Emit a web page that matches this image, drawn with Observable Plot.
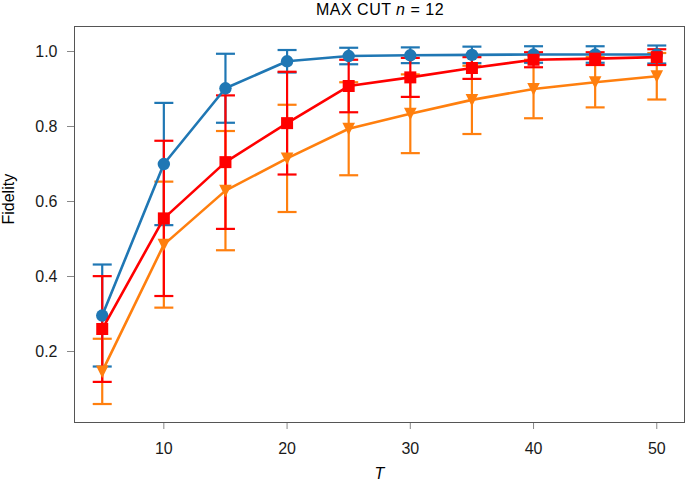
<!DOCTYPE html>
<html>
<head>
<meta charset="utf-8">
<script src="https://cdn.jsdelivr.net/npm/d3@7"></script>
<script src="https://cdn.jsdelivr.net/npm/@observablehq/plot@0.6"></script>
<style>
  html, body { margin: 0; padding: 0; background: #fff; }
  #chart svg { display: block; }
</style>
</head>
<body>
<div id="chart"></div>
<script>
// ---- Data ----
const T = [5, 10, 15, 20, 25, 30, 35, 40, 45, 50];

const blueMean   = [0.296, 0.700, 0.902, 0.974, 0.988, 0.990, 0.991, 0.992, 0.992, 0.992];
const blueErr    = [0.136, 0.163, 0.092, 0.030, 0.022, 0.021, 0.022, 0.022, 0.022, 0.024];

const redMean    = [0.260, 0.555, 0.705, 0.809, 0.908, 0.931, 0.956, 0.978, 0.981, 0.985];
const redErr     = [0.141, 0.207, 0.178, 0.137, 0.070, 0.052, 0.029, 0.020, 0.017, 0.021];

const orangeMean = [0.147, 0.485, 0.629, 0.715, 0.794, 0.834, 0.871, 0.900, 0.918, 0.934];
const orangeErr  = [0.087, 0.168, 0.159, 0.143, 0.124, 0.105, 0.091, 0.078, 0.067, 0.062];

const xTicks = [10, 20, 30, 40, 50];
const yTicks = [0.2, 0.4, 0.6, 0.8, 1.0];

const titleText = ["MAX CUT ", "n", " = 12"];
const xLabel = "T";
const yLabel = "Fidelity";

// ---- Build tables ----
const rows = (mean, err) => T.map((t, i) => ({T: t, m: mean[i], lo: mean[i] - err[i], hi: mean[i] + err[i]}));
const blue = rows(blueMean, blueErr);
const red = rows(redMean, redErr);
const orange = rows(orangeMean, orangeErr);

// ---- Custom symbols (pixel sized) ----
const capSymbol = {draw(ctx) { ctx.moveTo(-9.5, 0); ctx.lineTo(9.5, 0); }};
const squareSymbol = {draw(ctx) { ctx.rect(-6, -6, 12, 12); }};
const triDownSymbol = {draw(ctx) { ctx.moveTo(-6.3, -6); ctx.lineTo(6.3, -6); ctx.lineTo(0, 6.5); ctx.closePath(); }};

const C = {blue: "#1f77b4", red: "#ff0000", orange: "#ff7f0e"};

function errMarks(data, color) {
  return [
    Plot.ruleX(data, {x: "T", y1: "lo", y2: "hi", stroke: color, strokeWidth: 2.2}),
    Plot.dot(data, {x: "T", y: "hi", symbol: capSymbol, fill: "none", stroke: color, strokeWidth: 2.2, r: 9.5}),
    Plot.dot(data, {x: "T", y: "lo", symbol: capSymbol, fill: "none", stroke: color, strokeWidth: 2.2, r: 9.5})
  ];
}
function seriesMarks(data, color, symbol, r) {
  return [
    Plot.line(data, {x: "T", y: "m", stroke: color, strokeWidth: 2.6}),
    Plot.dot(data, {x: "T", y: "m", symbol, fill: color, stroke: "none", r})
  ];
}

const svg = Plot.plot({
  width: 685,
  height: 485,
  marginLeft: 74,
  marginRight: 1,
  marginTop: 26,
  marginBottom: 63,
  style: {fontFamily: "'Liberation Sans', Arial, Helvetica, sans-serif", fontSize: "16px", color: "#000", background: "#fff"},
  x: {domain: [2.75, 52.25], label: null},
  y: {domain: [0.0107, 1.0667], label: null},
  marks: [
    Plot.axisX({ticks: xTicks, tickSize: 7, tickPadding: 13, stroke: "#888", fill: "#1a1a1a", label: null, tickFormat: d3.format("d")}),
    Plot.axisY({ticks: yTicks, tickSize: 7, tickPadding: 10, stroke: "#888", fill: "#1a1a1a", label: null, tickFormat: d3.format(".1f")}),
    ...errMarks(blue, C.blue),
    ...errMarks(orange, C.orange),
    ...errMarks(red, C.red),
    ...seriesMarks(blue, C.blue, "circle", 6.2),
    ...seriesMarks(red, C.red, squareSymbol, 6),
    ...seriesMarks(orange, C.orange, triDownSymbol, 6),
    Plot.frame({stroke: "#555", strokeWidth: 1}),
    Plot.text([xLabel], {frameAnchor: "bottom", dy: 56, fontStyle: "italic", fontSize: 16, fill: "#000"}),
    Plot.text([yLabel], {frameAnchor: "left", dx: -66, rotate: -90, fontSize: 16, fill: "#000"})
  ]
});

// Title with italic n
const title = d3.select(svg).append("text")
  .attr("x", 380).attr("y", 15)
  .attr("text-anchor", "middle")
  .attr("font-size", 16)
  .attr("letter-spacing", "0.5px")
  .attr("fill", "#000");
title.selectAll("tspan").data(titleText).join("tspan")
  .attr("font-style", (d, i) => i === 1 ? "italic" : "normal")
  .text(d => d);

document.getElementById("chart").appendChild(svg);
</script>
</body>
</html>
